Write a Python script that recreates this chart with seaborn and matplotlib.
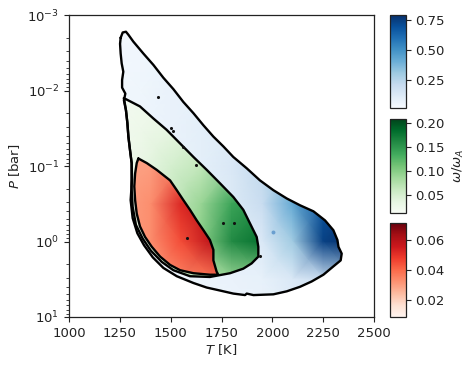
import numpy as np
import matplotlib
matplotlib.use("Agg")
import matplotlib.pyplot as plt
import seaborn as sns
from matplotlib.patches import Polygon
from matplotlib.colors import Normalize
from matplotlib.cm import ScalarMappable
from matplotlib.ticker import FormatStrFormatter

# ---------------- data ----------------
# region outlines: temperature [K] and log10 pressure [bar]
blue_T = [1254, 1264, 1280, 1292, 1316, 1366, 1415, 1464, 1513, 1562, 1612, 1661, 1710,
          1759, 1808, 1874, 1939, 2005, 2071, 2136, 2202, 2259, 2300, 2320, 2325, 2341,
          2336, 2300, 2251, 2193, 2136, 2071, 2005, 1907, 1874, 1866, 1808, 1743, 1677,
          1612, 1530, 1464, 1412, 1369, 1336, 1313, 1303, 1310, 1308, 1300, 1292, 1287,
          1280, 1270, 1277, 1261, 1261, 1267, 1259, 1254, 1251]
blue_logP = [-2.70, -2.77, -2.78, -2.74, -2.65, -2.49, -2.34, -2.17, -2.02, -1.85, -1.70,
             -1.54, -1.39, -1.26, -1.12, -0.97, -0.81, -0.68, -0.57, -0.48, -0.40, -0.28,
             -0.15, -0.02, 0.07, 0.16, 0.25, 0.33, 0.44, 0.53, 0.60, 0.66, 0.70, 0.71,
             0.69, 0.71, 0.69, 0.65, 0.61, 0.55, 0.46, 0.35, 0.21, 0.05, -0.11, -0.31,
             -0.55, -0.82, -1.04, -1.21, -1.39, -1.57, -1.74, -1.87, -1.96, -2.04, -2.14,
             -2.25, -2.36, -2.49, -2.62]

green_T = [1270, 1349, 1415, 1480, 1546, 1612, 1677, 1743, 1808, 1857, 1890, 1923, 1931,
           1931, 1898, 1857, 1792, 1693, 1595, 1513, 1456, 1402, 1362, 1329, 1313, 1307,
           1308, 1300, 1292, 1287, 1280]
green_logP = [-1.90, -1.79, -1.63, -1.48, -1.30, -1.12, -0.95, -0.77, -0.59, -0.42, -0.24,
              -0.06, 0.07, 0.20, 0.29, 0.36, 0.42, 0.47, 0.46, 0.38, 0.27, 0.12, -0.04,
              -0.22, -0.46, -0.73, -1.04, -1.21, -1.39, -1.57, -1.74]

red_T = [1341, 1382, 1431, 1464, 1497, 1530, 1562, 1595, 1628, 1661, 1693, 1710, 1710,
         1726, 1734, 1693, 1612, 1546, 1497, 1448, 1407, 1374, 1349, 1333, 1325, 1321,
         1325, 1333]
red_logP = [-1.10, -1.04, -0.95, -0.88, -0.81, -0.68, -0.55, -0.42, -0.28, -0.15, -0.02,
            0.11, 0.25, 0.40, 0.44, 0.44, 0.42, 0.38, 0.31, 0.20, 0.07, -0.06, -0.20,
            -0.37, -0.55, -0.73, -0.90, -1.04]

# omega/omega_A values read at grid nodes (rows: log10 P, columns: T)
blue_grid_T = [1200, 1350, 1500, 1650, 1800, 1950, 2100, 2250, 2400]
blue_grid_logP = [-3.0, -2.5, -2.0, -1.5, -1.0, -0.5, 0.0, 0.5, 1.0]
blue_vals = [
    [.04, .04, .05, .06, .07, .08, .09, .11, .12],
    [.04, .045, .06, .07, .08, .09, .11, .13, .14],
    [.04, .05, .07, .08, .09, .11, .13, .16, .18],
    [.04, .05, .07, .09, .11, .14, .18, .22, .26],
    [.04, .05, .07, .09, .13, .22, .30, .40, .45],
    [.04, .05, .06, .08, .12, .20, .42, .68, .76],
    [.04, .05, .06, .07, .09, .13, .30, .74, .80],
    [.04, .05, .05, .06, .07, .08, .13, .20, .28],
    [.04, .04, .05, .05, .06, .07, .09, .12, .16],
]

green_grid_T = [1200, 1350, 1500, 1650, 1800, 1950]
green_grid_logP = [-2.5, -2.0, -1.5, -1.0, -0.5, 0.0, 0.5, 1.0]
green_vals = [
    [.015, .015, .020, .025, .030, .035],
    [.015, .020, .025, .030, .035, .040],
    [.018, .025, .035, .045, .055, .065],
    [.020, .030, .050, .065, .080, .100],
    [.020, .035, .060, .090, .140, .160],
    [.020, .035, .065, .100, .160, .180],
    [.020, .030, .050, .070, .090, .100],
    [.020, .025, .035, .045, .055, .060],
]

red_grid_T = [1250, 1400, 1550, 1700, 1850]
red_grid_logP = [-1.5, -1.0, -0.5, 0.0, 0.5, 1.0]
red_vals = [
    [.029, .029, .031, .034, .036],
    [.029, .030, .035, .040, .042],
    [.029, .033, .052, .060, .060],
    [.029, .033, .045, .058, .060],
    [.029, .031, .035, .038, .040],
    [.029, .030, .032, .034, .036],
]

# colour ranges of the three colour bars
blue_range = (0.017, 0.79)
green_range = (0.012, 0.209)
red_range = (0.0087, 0.0713)
blue_ticks = [0.25, 0.50, 0.75]
green_ticks = [0.05, 0.10, 0.15, 0.20]
red_ticks = [0.02, 0.04, 0.06]

# isolated points
dot_T = [1439, 1500, 1513, 1559, 1625, 1759, 1811, 1579, 1939]
dot_P = [0.0123, 0.0317, 0.0344, 0.0555, 0.0971, 0.56, 0.56, 0.89, 1.55]
blue_dot_T = [2005]
blue_dot_P = [0.741]

x_ticks = [1000, 1250, 1500, 1750, 2000, 2250, 2500]

# ---------------- figure ----------------
sns.set_style("ticks")
plt.rcParams.update({
    "font.family": ["DejaVu Sans"],
    "font.size": 9.5,
    "axes.labelsize": 9.5,
    "xtick.labelsize": 9.5,
    "ytick.labelsize": 9.5,
    "axes.edgecolor": "#222222",
    "axes.linewidth": 0.9,
    "xtick.major.size": 3.5,
    "ytick.major.size": 3.5,
    "xtick.minor.size": 2.0,
    "ytick.minor.size": 2.0,
    "xtick.major.width": 0.8,
    "ytick.major.width": 0.8,
    "ytick.minor.width": 0.6,
    "xtick.color": "#222222",
    "ytick.color": "#222222",
    "text.color": "#222222",
    "axes.labelcolor": "#222222",
})

fig = plt.figure(figsize=(4.74, 3.69), dpi=100)
ax = fig.add_axes([0.1456, 0.141, 0.6435, 0.818])
ax.set_yscale("log")
ax.set_xlim(1000, 2500)
ax.set_ylim(10, 1e-3)


def draw_region(T_poly, lp_poly, gT, glp, vals, cmap, vr, z):
    P_poly = 10 ** np.asarray(lp_poly, dtype=float)
    TT, PP = np.meshgrid(np.asarray(gT, float), 10 ** np.asarray(glp, float))
    mesh = ax.pcolormesh(TT, PP, np.asarray(vals, float), shading="gouraud",
                         cmap=cmap, vmin=vr[0], vmax=vr[1], zorder=z, rasterized=True)
    patch = Polygon(np.column_stack([T_poly, P_poly]), closed=True,
                    transform=ax.transData, facecolor="none", edgecolor="none")
    mesh.set_clip_path(patch)
    ax.plot(np.r_[T_poly, T_poly[0]], np.r_[P_poly, P_poly[0]],
            color="k", lw=1.7, zorder=5, solid_joinstyle="round")


draw_region(blue_T, blue_logP, blue_grid_T, blue_grid_logP, blue_vals, "Blues", blue_range, 1)
draw_region(green_T, green_logP, green_grid_T, green_grid_logP, green_vals, "Greens", green_range, 2)
draw_region(red_T, red_logP, red_grid_T, red_grid_logP, red_vals, "Reds", red_range, 3)

sns.scatterplot(x=dot_T, y=dot_P, ax=ax, color="#111111", s=5, linewidth=0, zorder=6, legend=False)
sns.scatterplot(x=blue_dot_T, y=blue_dot_P, ax=ax, color="#6a9fd0", s=8, linewidth=0, zorder=6, legend=False)

ax.set_xlim(1000, 2500)
ax.set_ylim(10, 1e-3)
ax.set_xticks(x_ticks)
ax.set_xlabel("$T$ [K]", labelpad=2)
ax.set_ylabel("$P$ [bar]", labelpad=4)

# colour bars
cb_specs = [
    ([0.8228, 0.7073, 0.0331, 0.2520], "Blues", blue_range, blue_ticks),
    ([0.8228, 0.4228, 0.0331, 0.2547], "Greens", green_range, green_ticks),
    ([0.8228, 0.1409, 0.0331, 0.2547], "Reds", red_range, red_ticks),
]
cbars = []
for rect, cmap, vr, ticks in cb_specs:
    cax = fig.add_axes(rect)
    sm = ScalarMappable(norm=Normalize(vmin=vr[0], vmax=vr[1]), cmap=cmap)
    cb = fig.colorbar(sm, cax=cax, ticks=ticks)
    cb.ax.yaxis.set_major_formatter(FormatStrFormatter("%.2f"))
    cb.ax.tick_params(labelsize=9.5, length=3.5, width=0.8)
    cb.outline.set_linewidth(0.9)
    cb.outline.set_edgecolor("#222222")
    cbars.append(cb)
cbars[1].set_label(r"$\omega/\omega_A$", fontsize=9.5, labelpad=4)

fig.savefig("out.png", dpi=100)
